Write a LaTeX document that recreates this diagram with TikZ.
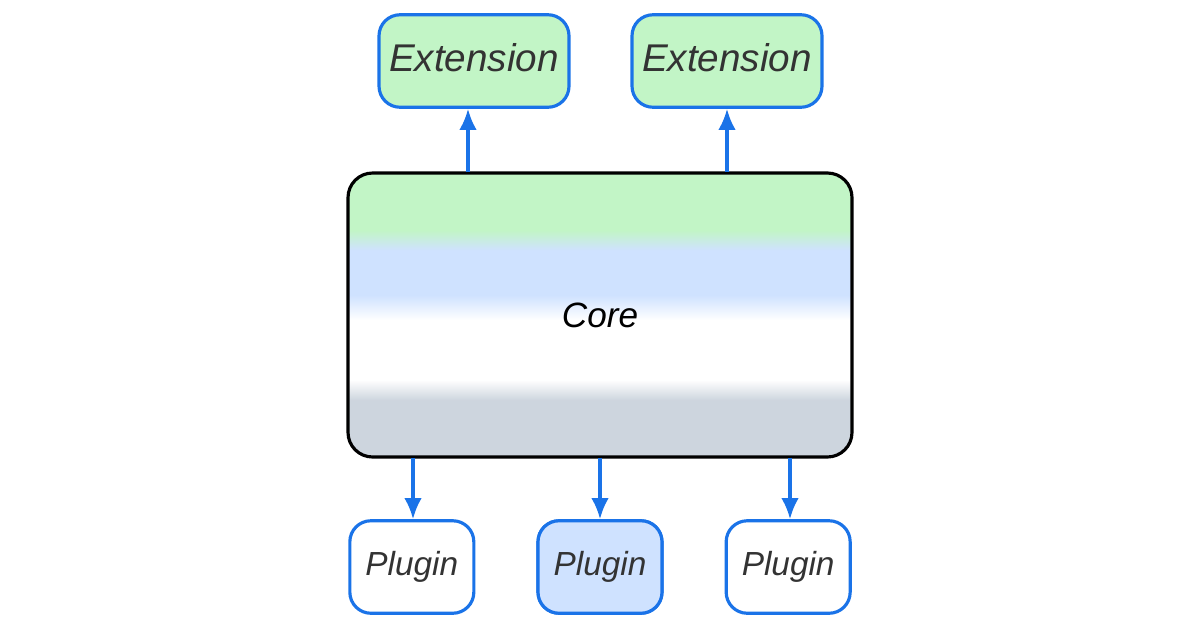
\documentclass[tikz,border=0pt]{standalone}
\usepackage{fontspec}
\setmainfont{Liberation Sans}
\usetikzlibrary{positioning,arrows.meta}
\definecolor{lineblue}{HTML}{1A73E8}
\definecolor{extgreen}{HTML}{C2F5C6}
\definecolor{plugblue}{HTML}{CFE2FF}
\definecolor{coregray}{HTML}{CDD5DE}
\pgfdeclareverticalshading{coreshade}{100bp}{
  color(0bp)=(coregray); color(35bp)=(coregray);
  color(38.6bp)=(white); color(49.1bp)=(white);
  color(53.5bp)=(plugblue); color(61.4bp)=(plugblue);
  color(64.9bp)=(extgreen); color(100bp)=(extgreen)}
\begin{document}
\begin{tikzpicture}[
  ext/.style = {draw=lineblue,line width=1.8pt,rounded corners=12pt,fill=extgreen,
        minimum width=3.8cm,minimum height=1.85cm,font=\itshape\fontsize{22}{26}\selectfont,
        text=black!80},
  plug/.style = {draw=lineblue,line width=1.8pt,rounded corners=12pt,fill=white,
        minimum width=2.48cm,minimum height=1.85cm,font=\itshape\fontsize{19}{22}\selectfont,
        text=black!80},
  link/.style = {draw=lineblue,line width=1.8pt,-{Latex[length=12pt,width=10pt]}}
]
 \useasboundingbox (0,0) rectangle (24,12.6);
 \node[draw,line width=1.8pt,rounded corners=14pt,shading=coreshade,
       minimum width=10.08cm,minimum height=5.68cm,
       font=\itshape\fontsize{20}{24}\selectfont] (core) at (12,6.3) {Core};
 \node[ext] (ext1) at (9.48,11.38) {\raisebox{4pt}{Extension}};
 \node[ext] (ext2) at (14.54,11.38) {\raisebox{4pt}{Extension}};
 \node[plug] (p2) at (12,1.26) {Plugin};
 \node[plug, left=1.22cm of p2] (p1) {Plugin};
 \node[plug, right=1.22cm of p2] (p3) {Plugin};
 \node[plug,fill=plugblue] at (p2) {Plugin};
 \coordinate (t1) at (9.36,9.16);
 \coordinate (t2) at (14.54,9.16);
 \draw[link] (t1) -- (t1 |- ext1.south);
 \draw[link] (t2) -- (ext2.south);
 \foreach \p/\x in {p1/8.26,p2/12,p3/15.8}
   \draw[link] (\x,3.44) -- (\x,0 |- \p.north);
\end{tikzpicture}
\end{document}
